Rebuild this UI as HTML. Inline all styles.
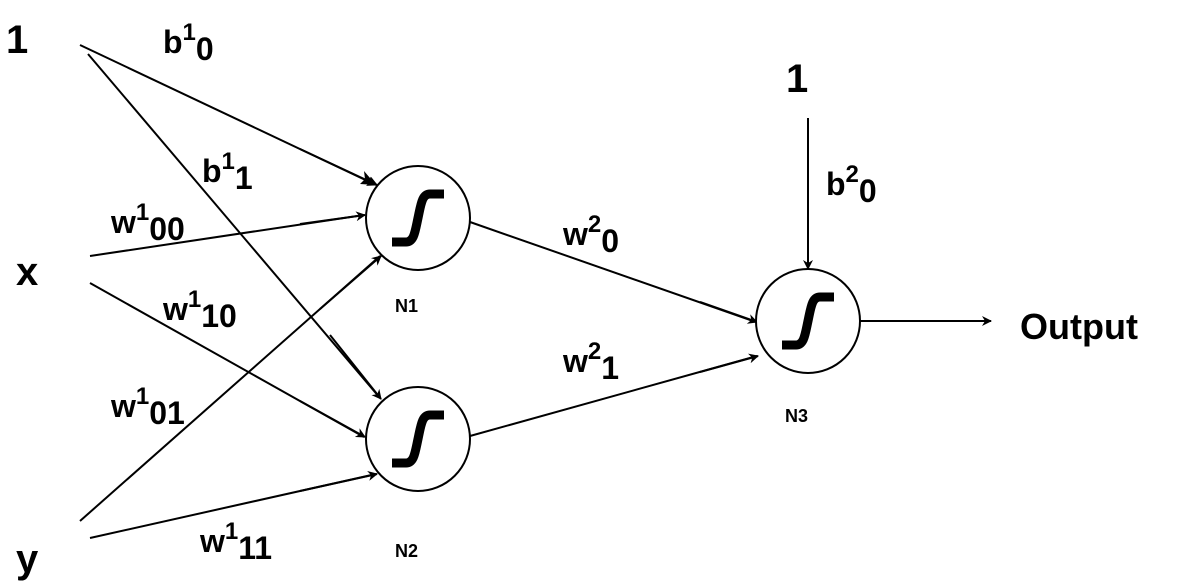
<!DOCTYPE html>
<html><head><meta charset="utf-8"><style>html,body{margin:0;padding:0;background:#fff}svg{display:block}</style></head>
<body>
<svg width="1200" height="588" viewBox="0 0 1200 588" xmlns="http://www.w3.org/2000/svg" font-family="Liberation Sans, sans-serif" font-weight="bold">
<defs>
<marker id="a" markerWidth="10" markerHeight="10" refX="9" refY="5" orient="auto" markerUnits="userSpaceOnUse" viewBox="0 0 10 10">
<path d="M0,0 L10,5 L0,10 L3,5 z" fill="#000"/>
</marker>
<g id="sig"><path d="M-26,24 L-12,24 C-4,24 -3,14 0,0 C3,-14 4,-24 12,-24 L26,-24" fill="none" stroke="#000" stroke-width="9"/></g>
</defs>
<g stroke="#000" stroke-width="2" fill="none">
<line x1="80" y1="45" x2="376" y2="185" marker-end="url(#a)" transform=""/>
<line x1="88" y1="54" x2="380" y2="398"/>
<line x1="90" y1="256" x2="364" y2="215"/>
<line x1="90" y1="283" x2="364" y2="437"/>
<line x1="80" y1="521" x2="380" y2="256"/>
<line x1="90" y1="538" x2="376" y2="474"/>
<line x1="470" y1="222" x2="756" y2="322"/>
<line x1="470" y1="436" x2="757" y2="356"/>
<line x1="808" y1="118" x2="808" y2="268"/>
<line x1="860" y1="321" x2="990" y2="321"/>
</g>
<g fill="#000">
<path d="M376,185 l-16,-1 l5,-5 l-1,-8 z" />
</g>
<g stroke="#000" stroke-width="2" fill="none">
<line x1="300" y1="149" x2="377" y2="185" marker-end="url(#a)"/>
<line x1="330" y1="335" x2="381" y2="399" marker-end="url(#a)"/>
<line x1="300" y1="224" x2="365" y2="215" marker-end="url(#a)"/>
<line x1="300" y1="401" x2="365" y2="437" marker-end="url(#a)"/>
<line x1="320" y1="309" x2="381" y2="256" marker-end="url(#a)"/>
<line x1="300" y1="491" x2="377" y2="474" marker-end="url(#a)"/>
<line x1="700" y1="302" x2="757" y2="322" marker-end="url(#a)"/>
<line x1="700" y1="372" x2="758" y2="356" marker-end="url(#a)"/>
<line x1="808" y1="230" x2="808" y2="269" marker-end="url(#a)"/>
<line x1="940" y1="321" x2="991" y2="321" marker-end="url(#a)"/>
</g>
<g stroke="#000" stroke-width="2" fill="#fff">
<circle cx="418" cy="218" r="52"/>
<circle cx="418" cy="439" r="52"/>
<circle cx="808" cy="321" r="52"/>
</g>
<use href="#sig" transform="translate(418,218)"/>
<use href="#sig" transform="translate(418,439)"/>
<use href="#sig" transform="translate(808,321)"/>
<g font-size="40">
<text x="6" y="53">1</text>
<text x="786" y="92">1</text>
<text x="16" y="285">x</text>
<text x="16" y="572">y</text>
</g>
<text x="1020" y="339" font-size="36">Output</text>
<g font-size="18">
<text x="395" y="312">N1</text>
<text x="395" y="557">N2</text>
<text x="785" y="422">N3</text>
</g>
<g font-size="32">
<text x="163" y="53">b<tspan font-size="24" dy="-13">1</tspan><tspan dy="20">0</tspan></text>
<text x="202" y="182">b<tspan font-size="24" dy="-13">1</tspan><tspan dy="20">1</tspan></text>
<text x="111" y="233">w<tspan font-size="24" dy="-13">1</tspan><tspan dy="20">00</tspan></text>
<text x="163" y="320">w<tspan font-size="24" dy="-13">1</tspan><tspan dy="20">10</tspan></text>
<text x="111" y="417">w<tspan font-size="24" dy="-13">1</tspan><tspan dy="20">01</tspan></text>
<text x="200" y="552">w<tspan font-size="24" dy="-13">1</tspan><tspan dy="20">11</tspan></text>
<text x="563" y="245">w<tspan font-size="24" dy="-13">2</tspan><tspan dy="20">0</tspan></text>
<text x="563" y="372">w<tspan font-size="24" dy="-13">2</tspan><tspan dy="20">1</tspan></text>
<text x="826" y="195">b<tspan font-size="24" dy="-13">2</tspan><tspan dy="20">0</tspan></text>
</g>
</svg>
</body></html>
